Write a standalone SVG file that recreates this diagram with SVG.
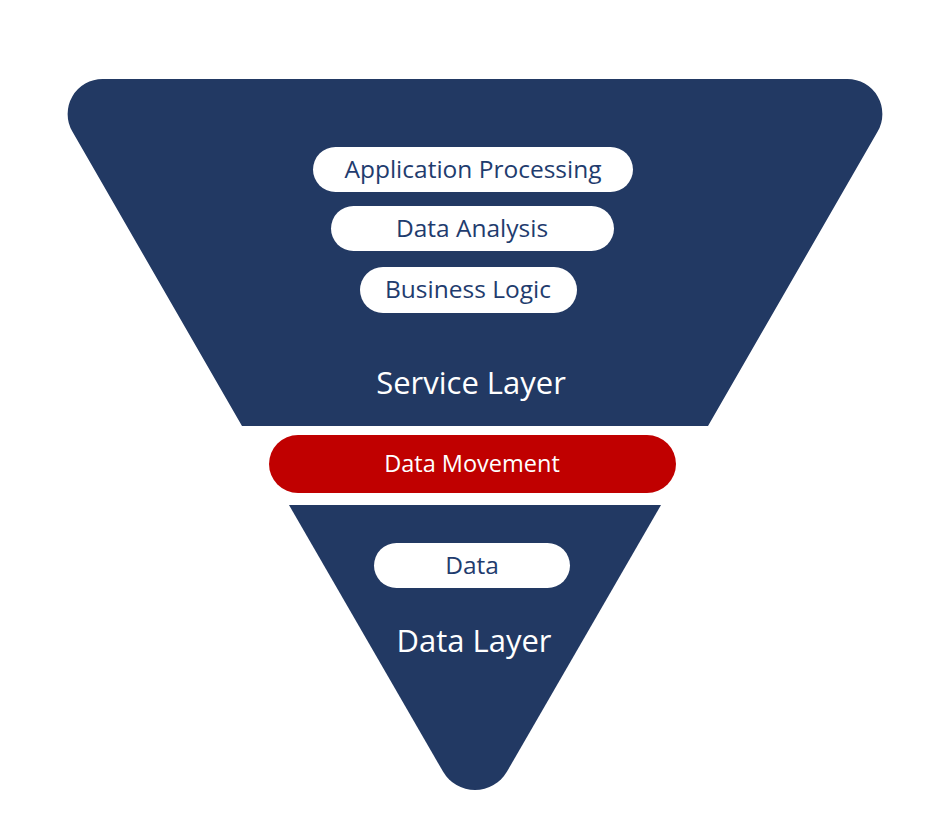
<svg xmlns="http://www.w3.org/2000/svg" width="934" height="826" viewBox="0 0 934 826">
<style>
.layer{fill:#223963}
.pill{fill:#ffffff}
.pt{font-family:"Open Sans","Liberation Sans",sans-serif;font-size:24.5px;fill:#1f3c6e;text-anchor:middle}
.lt{font-family:"Open Sans","Liberation Sans",sans-serif;font-size:31px;fill:#ffffff;text-anchor:middle}
.mt{font-family:"Open Sans","Liberation Sans",sans-serif;font-size:23.5px;fill:#ffffff;text-anchor:middle}
</style>
<rect width="934" height="826" fill="#ffffff"/>
<g id="service-layer">
<path class="layer" d="M103,79 L847,79 A35,35 0 0 1 877.5,131.8 L708,426 L242,426 L72.5,131.8 A35,35 0 0 1 103,79 Z"/>
<text class="lt" x="471" y="394">Service Layer</text>
</g>
<g id="app-processing">
<rect class="pill" x="313" y="147" width="320" height="45" rx="22.5"/>
<text class="pt" x="473" y="178">Application Processing</text>
</g>
<g id="data-analysis">
<rect class="pill" x="331" y="206" width="283" height="45" rx="22.5"/>
<text class="pt" x="472" y="237">Data Analysis</text>
</g>
<g id="business-logic">
<rect class="pill" x="360" y="267" width="217" height="46" rx="23"/>
<text class="pt" x="468" y="298">Business Logic</text>
</g>
<g id="data-movement">
<rect x="269" y="435" width="407" height="58" rx="29" fill="#c00000"/>
<text class="mt" x="472" y="472">Data Movement</text>
</g>
<g id="data-layer">
<path class="layer" d="M289,505 L661,505 L507,771.6 A37,37 0 0 1 443,771.6 Z"/>
<text class="lt" x="474" y="652">Data Layer</text>
</g>
<g id="data">
<rect class="pill" x="374" y="543" width="196" height="45" rx="22.5"/>
<text class="pt" x="472" y="574">Data</text>
</g>
<g id="connectors"></g>
</svg>
